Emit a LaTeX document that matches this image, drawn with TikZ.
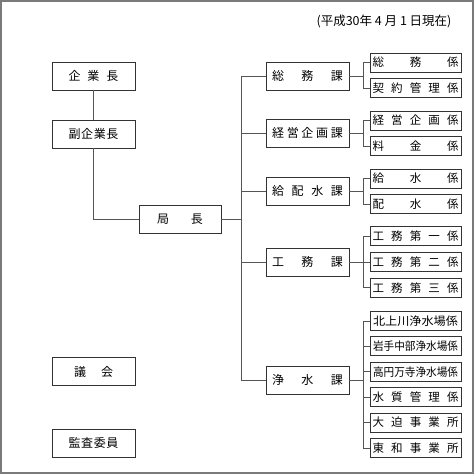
\documentclass[tikz,border=0pt]{standalone}
\usepackage{fontspec}
\newfontfamily\jpfont{Noto Sans CJK JP}
\usepackage{graphicx}
\usepackage{tikz}
\usetikzlibrary{positioning}
\definecolor{boxline}{HTML}{333333}
\definecolor{linkline}{HTML}{555555}
\definecolor{framegray}{HTML}{7A7A7A}
\newcommand{\spreadtext}[2]{\makebox[#1][s]{\spaceskip=0pt plus 1fil\relax #2}}
\newcommand{\squeezetext}[2]{\resizebox{#1}{\height}{#2}}

\begin{document}
\begin{tikzpicture}[
  x=1pt, y=-1pt,
  node distance=6pt,
  every node/.style={font=\jpfont\fontsize{12}{14}\selectfont},
  post/.style={
    rectangle, draw=boxline, line width=0.9pt,
    minimum width=83pt, minimum height=28pt, inner sep=0pt
  },
  unit/.style={
    rectangle, draw=boxline, line width=0.9pt,
    minimum width=91pt, minimum height=19pt, inner sep=0pt,
    font=\jpfont\fontsize{11.5}{13}\selectfont
  },
  link/.style={draw=linkline, line width=0.8pt}
]
\useasboundingbox (0,0) rectangle (474,474);
\draw[framegray, line width=2pt] (1,1) rectangle (473,473);

\node[anchor=east, font=\jpfont\fontsize{12.5}{14}\selectfont] (date) at (455,21) {(平成30年 4 月 1 日現在)};

% left column
\node[post] (kigyo) at (93.5,76)    {\spreadtext{50pt}{企 業 長}};
\node[post] (fuku)  at (93.5,134)   {\spreadtext{50pt}{副 企 業 長}};
\node[post, minimum width=82pt] (kyoku) at (180,219) {\spreadtext{46pt}{局 長}};
\node[post] (gikai) at (93.5,371.5) {\spreadtext{39pt}{議 会}};
\node[post] (kansa) at (93.5,443)   {\spreadtext{50pt}{監 査 委 員}};

% sections
\node[post] (soumu)  at (307.5,76)  {\spreadtext{71pt}{総 務 課}};
\node[post] (keiei)  at (307.5,133) {\spreadtext{71pt}{経 営 企 画 課}};
\node[post] (kyusui) at (307.5,191) {\spreadtext{71pt}{給 配 水 課}};
\node[post] (komu)   at (307.5,262) {\spreadtext{71pt}{工 務 課}};
\node[post] (josui)  at (307.5,380) {\spreadtext{71pt}{浄 水 課}};

% units
\node[unit] (soumu1) at (415.5,62.5)    {\spreadtext{86pt}{総 務 係}};
\node[unit, below=of soumu1] (soumu2)   {\spreadtext{86pt}{契 約 管 理 係}};
\node[unit] (keiei1) at (415.5,120.5)   {\spreadtext{86pt}{経 営 企 画 係}};
\node[unit, below=of keiei1] (keiei2)   {\spreadtext{86pt}{料 金 係}};
\node[unit] (kyusui1) at (415.5,178.5)  {\spreadtext{86pt}{給 水 係}};
\node[unit, below=of kyusui1] (kyusui2) {\spreadtext{86pt}{配 水 係}};
\node[unit] (komu1) at (415.5,236)      {\spreadtext{86pt}{工 務 第 一 係}};
\node[unit, below=of komu1] (komu2)     {\spreadtext{86pt}{工 務 第 二 係}};
\node[unit, below=of komu2] (komu3)     {\spreadtext{86pt}{工 務 第 三 係}};
\node[unit] (josui1) at (415.5,321)     {\squeezetext{85pt}{北上川浄水場係}};
\node[unit, below=5.5pt of josui1] (josui2) {\squeezetext{85pt}{岩手中部浄水場係}};
\node[unit, below=5.5pt of josui2] (josui3) {\squeezetext{85pt}{高円万寺浄水場係}};
\node[unit, below=5.5pt of josui3] (josui4) {\spreadtext{86pt}{水 質 管 理 係}};
\node[unit, below=5.5pt of josui4] (josui5) {\spreadtext{86pt}{大 迫 事 業 所}};
\node[unit, below=5.5pt of josui5] (josui6) {\spreadtext{86pt}{東 和 事 業 所}};

% left links
\draw[link] (kigyo) -- (fuku);
\draw[link] (fuku.south) |- (kyoku.west);

% trunk to sections
\draw[link] (soumu.west)  -- ++(-24,0) |- (kyoku.east);
\draw[link] (keiei.west)  -- ++(-24,0) |- (kyoku.east);
\draw[link] (kyusui.west) -- ++(-24,0) |- (kyoku.east);
\draw[link] (komu.west)   -- ++(-24,0) |- (kyoku.east);
\draw[link] (josui.west)  -- ++(-24,0) |- (kyoku.east);

% sections to units
\draw[link] (soumu.east)  -- ++(14,0) |- (soumu1.west);
\draw[link] (soumu.east)  -- ++(14,0) |- (soumu2.west);
\draw[link] (keiei.east)  -- ++(14,0) |- (keiei1.west);
\draw[link] (keiei.east)  -- ++(14,0) |- (keiei2.west);
\draw[link] (kyusui.east) -- ++(14,0) |- (kyusui1.west);
\draw[link] (kyusui.east) -- ++(14,0) |- (kyusui2.west);
\draw[link] (komu.east)   -- ++(14,0) |- (komu1.west);
\draw[link] (komu.east)   -- ++(14,0) |- (komu2.west);
\draw[link] (komu.east)   -- ++(14,0) |- (komu3.west);
\draw[link] (josui.east)  -- ++(14,0) |- (josui1.west);
\draw[link] (josui.east)  -- ++(14,0) |- (josui2.west);
\draw[link] (josui.east)  -- ++(14,0) |- (josui3.west);
\draw[link] (josui.east)  -- ++(14,0) |- (josui4.west);
\draw[link] (josui.east)  -- ++(14,0) |- (josui5.west);
\draw[link] (josui.east)  -- ++(14,0) |- (josui6.west);
\end{tikzpicture}
\end{document}
